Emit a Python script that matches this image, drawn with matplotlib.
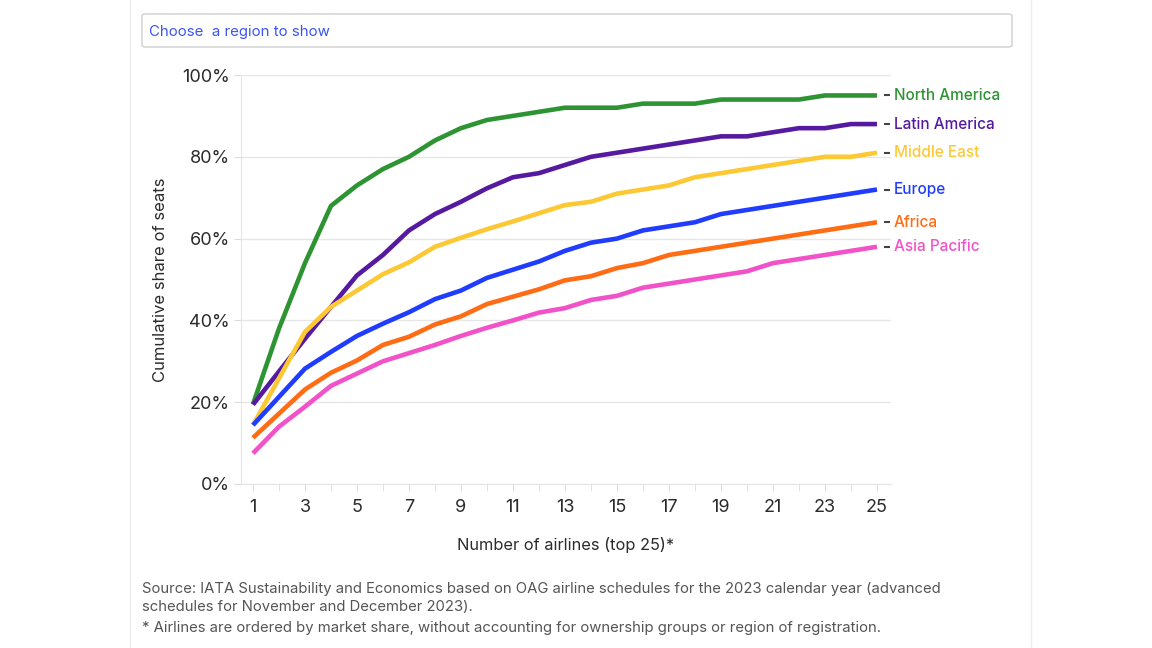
import matplotlib
matplotlib.use("Agg")
import matplotlib.pyplot as plt
from matplotlib.patches import FancyBboxPatch
from matplotlib.lines import Line2D
from matplotlib.transforms import offset_copy

plt.rcParams['font.family'] = ['Inter', 'DejaVu Sans']

airlines = list(range(1, 26))
regions = ["North America", "Latin America", "Middle East", "Europe", "Africa", "Asia Pacific"]
north_america = [19.5, 38, 54, 68, 73, 77, 80, 84, 87, 89, 90, 91, 92, 92, 92, 93, 93, 93, 94, 94, 94, 94, 95, 95, 95]
latin_america = [19.4, 27.5, 35.5, 43.3, 51, 56, 62, 66, 69, 72.3, 75, 76, 78, 80, 81, 82, 83, 84, 85, 85, 86, 87, 87, 88, 88]
middle_east = [14.4, 25.8, 37.2, 43.3, 47.3, 51.3, 54.2, 58, 60.2, 62.3, 64.2, 66.2, 68.2, 69, 71, 72, 73, 75, 76, 77, 78, 79, 80, 80, 81]
europe = [14.4, 21.3, 28.2, 32.3, 36.2, 39.2, 42, 45.2, 47.3, 50.4, 52.4, 54.4, 57, 59, 60, 62, 63, 64, 66, 67, 68, 69, 70, 71, 72]
africa = [11.3, 17.2, 23.1, 27.2, 30.2, 34, 36, 39, 41, 44, 45.8, 47.6, 49.8, 50.8, 52.8, 54, 56, 57, 58, 59, 60, 61, 62, 63, 64]
asia_pacific = [7.5, 14, 18.9, 24, 27, 30, 32, 34, 36.2, 38.2, 40, 41.9, 43, 45, 46, 48, 49, 50, 51, 52, 54, 55, 56, 57, 58]
series = [north_america, latin_america, middle_east, europe, africa, asia_pacific]
colors = ["#2e9433", "#561aa0", "#fcc935", "#1f3cff", "#ff6c14", "#f252c8"]
yticks = [0, 20, 40, 60, 80, 100]
xticks = list(range(1, 26, 2))

W, H = 1152, 648
fig = plt.figure(figsize=(W / 100, H / 100), dpi=100)
fig.patch.set_facecolor("white")

# card edges
fig.add_artist(Line2D([129.5 / W, 129.5 / W], [0, 1], color="#ececec", lw=1))
fig.add_artist(Line2D([1030.5 / W, 1030.5 / W], [0, 1], color="#ececec", lw=1))

# dropdown box
box = FancyBboxPatch((142 / W, 1 - 47 / H), (1012 - 142) / W, 33 / H,
                     boxstyle="round,pad=0,rounding_size=0.003", transform=fig.transFigure,
                     facecolor="white", edgecolor="#cfcfcf", lw=1)
fig.add_artist(box)
fig.text(149 / W, 1 - 32 / H, "Choose  a region to show", color="#3a55f5",
         fontsize=10.8, va="center", ha="left")

ax = fig.add_axes([241 / W, 1 - 484 / H, (891 - 241) / W, (484 - 75) / H])
ax.set_facecolor("white")
for vals, col in zip(series, colors):
    ax.plot(airlines, vals, color=col, lw=3.3, solid_capstyle="butt", solid_joinstyle="round", zorder=3)

ax.set_xlim(0.54, 25.54)
ax.set_ylim(0, 100)
ax.set_yticks(yticks)
ax.set_yticklabels([f"{v}%" for v in yticks])
ax.set_xticks(xticks)
ax.set_xticks(airlines, minor=True)
ax.grid(axis="y", color="#e6e6e6", lw=1, zorder=0)
for s in ["top", "right"]:
    ax.spines[s].set_visible(False)
for s in ["left", "bottom"]:
    ax.spines[s].set_color("#e6e6e6")
ax.tick_params(axis="both", which="both", color="#dcdcdc", labelcolor="#2b2b2b", labelsize=13)
ax.tick_params(axis="y", length=5, pad=3)
ax.tick_params(axis="x", which="major", length=5, pad=6)
ax.tick_params(axis="x", which="minor", length=5)
ax.set_xlabel("Number of airlines (top 25)*", fontsize=11.8, color="#2b2b2b", labelpad=15)
ax.set_ylabel("Cumulative share of seats", fontsize=12, color="#2b2b2b", labelpad=10)

for name, vals, col in zip(regions, series, colors):
    x_end, y_end = airlines[-1], vals[-1]
    t0 = offset_copy(ax.transData, fig=fig, x=10, y=0, units="dots")
    ax.add_line(Line2D([x_end], [y_end], transform=t0, color="#444444",
                       marker="_", markersize=5, mew=1.5, clip_on=False))
    ax.annotate(name, xy=(x_end, y_end), xytext=(17, 0), textcoords="offset pixels",
                color=col, fontsize=11, va="center", ha="left", fontweight="medium")

fig.text(142 / W, 1 - 589 / H,
         "Source: IATA Sustainability and Economics based on OAG airline schedules for the 2023 calendar year (advanced",
         fontsize=10.7, color="#555555", va="center", ha="left")
fig.text(142 / W, 1 - 607 / H, "schedules for November and December 2023).",
         fontsize=10.7, color="#555555", va="center", ha="left")
fig.text(142 / W, 1 - 628 / H,
         "* Airlines are ordered by market share, without accounting for ownership groups or region of registration.",
         fontsize=10.7, color="#555555", va="center", ha="left")
fig.savefig("out.png", dpi=100, facecolor="white")
